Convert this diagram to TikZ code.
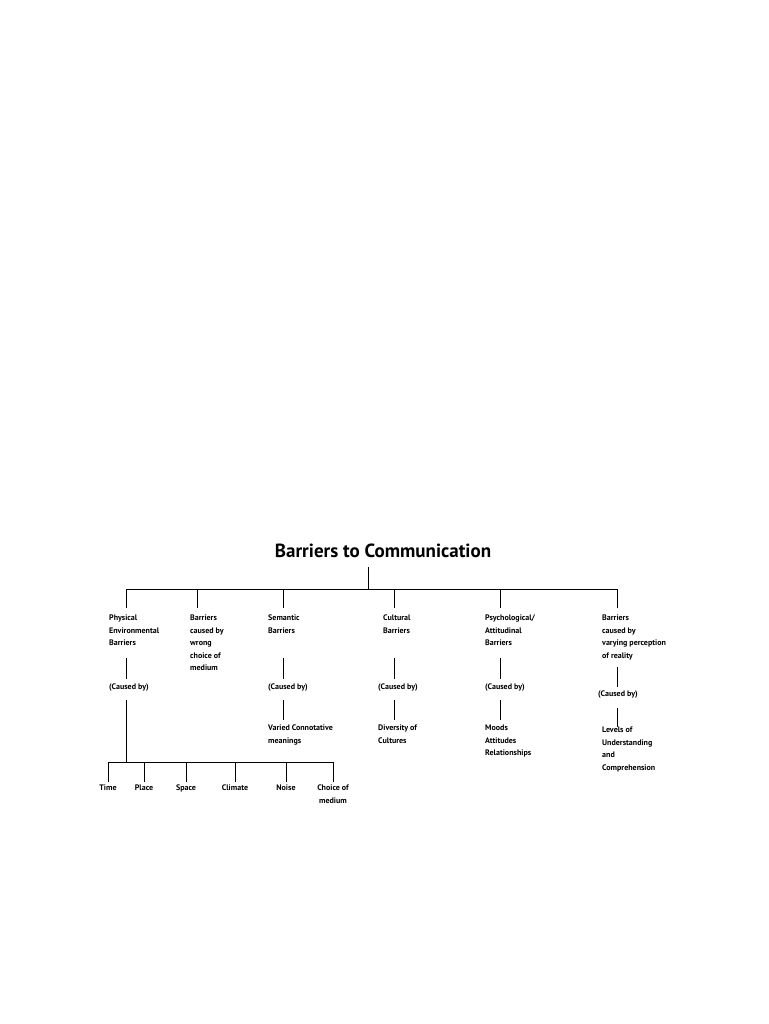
\documentclass[tikz,border=0pt]{standalone}
\usepackage{fontspec}
\setmainfont{PT Sans}
\begin{document}
\begin{tikzpicture}[x=1pt,y=-1pt,
  lbl/.style={anchor=north west,align=left,font=\bfseries\fontsize{8}{12.4}\selectfont,inner sep=0pt},
  leaf/.style={anchor=north,align=center,font=\bfseries\fontsize{8}{12.4}\selectfont,inner sep=0pt},
  ln/.style={line width=0.8pt}]
\useasboundingbox (0,0) rectangle (768,1024);
\node[font=\bfseries\fontsize{19}{22}\selectfont,inner sep=0pt] (title) at (383,551) {Barriers to Communication};
\coordinate (t0) at (368,567);
\coordinate (t1) at (368,589);
\draw[ln] (t0) -- (t1);
\coordinate (bl) at (126,589); \coordinate (br) at (617,589);
\draw[ln] (bl) -- (br);
\foreach \x in {126,197,283,394,500,617} \draw[ln] (\x,589) -- (\x,608);
% top level
\node[lbl] (phys) at (109,615) {Physical\\Environmental\\Barriers};
\node[lbl] (wrong) at (190,615) {Barriers\\caused by\\wrong\\choice of\\medium};
\node[lbl] (sem) at (268,615) {Semantic\\Barriers};
\node[lbl] (cult) at (383,615) {Cultural\\Barriers};
\node[lbl] (psy) at (485,615) {Psychological/\\Attitudinal\\Barriers};
\node[lbl] (real) at (602,615) {Barriers\\caused by\\varying perception\\of reality};
% caused by
\node[lbl] (pc) at (109,684) {(Caused by)};
\node[lbl] (sc) at (268,684) {(Caused by)};
\node[lbl] (cc) at (378,684) {(Caused by)};
\node[lbl] (yc) at (485,684) {(Caused by)};
\node[lbl] (rc) at (598,691) {(Caused by)};
\foreach \x in {126,283,394,500} \draw[ln] (\x,658) -- (\x,679);
\draw[ln] (617,667) -- (617,687);
\foreach \x in {283,394,500} \draw[ln] (\x,700) -- (\x,720);
\draw[ln] (617,708) -- (617,727);
\node[lbl] (sv) at (268,725) {Varied Connotative\\meanings};
\node[lbl] (cv) at (378,725) {Diversity of\\Cultures};
\node[lbl] (yv) at (485,725) {Moods\\Attitudes\\Relationships};
\node[lbl] (rv) at (602,727) {Levels of\\Understanding\\and\\Comprehension};
% physical subtree
\coordinate (p0) at (126,700); \coordinate (p1) at (126,762);
\draw[ln] (p0) -- (p1);
\coordinate (hl) at (108,762); \coordinate (hr) at (333,762);
\draw[ln] (hl) -- (hr);
\foreach \x/\t/\n in {108/Time/l1,144/Place/l2,186/Space/l3,235/Climate/l4,286/Noise/l5,333/{Choice of\\medium}/l6}{
  \draw[ln] (\x,762) -- (\x,782);
  \node[leaf] (\n) at (\x,785) {\t};
}
\end{tikzpicture}
\end{document}
